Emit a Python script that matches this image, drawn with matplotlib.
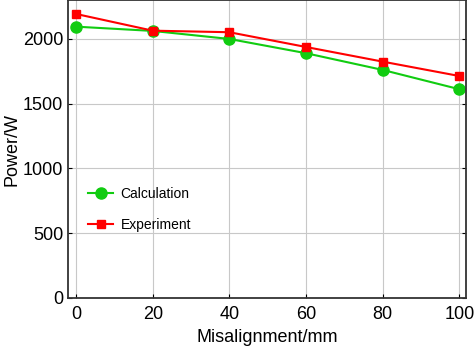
import numpy as np
import matplotlib.pyplot as plt

plt.rcParams['font.family'] = ['Liberation Sans', 'DejaVu Sans']

misalignment = [0, 20, 40, 60, 80, 100]
calc_power = [2095, 2062, 2000, 1890, 1761, 1612]
exp_power = [2193, 2064, 2052, 1938, 1825, 1714]

fig = plt.figure(figsize=(4.74, 3.48), dpi=100)
ax = fig.add_axes([0.1435, 0.1437, 0.84, 0.856])

ax.plot(misalignment, calc_power, color='#11cc11', marker='o', markersize=8,
        linewidth=1.5, label='Calculation')
ax.plot(misalignment, exp_power, color='#ff0000', marker='s', markersize=6,
        linewidth=1.5, label='Experiment')

ax.set_xlim(-2.1, 101.8)
ax.set_ylim(0, 2300)
ax.set_xticks([0, 20, 40, 60, 80, 100])
ax.set_yticks([0, 500, 1000, 1500, 2000])
ax.grid(True, color='#c8c8c8', linewidth=0.8)
ax.tick_params(direction='in', labelsize=13, length=3, right=True)
ax.tick_params(axis='x', pad=6)
for s in ax.spines.values():
    s.set_color('#333333')
    s.set_linewidth(1.3)

ax.set_xlabel('Misalignment/mm', fontsize=13, labelpad=4)
ax.set_ylabel('Power/W', fontsize=13, labelpad=2)

ax.legend(loc='lower left', bbox_to_anchor=(0.02, 0.18), frameon=False,
          fontsize=10, handlelength=1.8, handletextpad=0.5, labelspacing=1.2)

fig.savefig('out.png', dpi=100)
